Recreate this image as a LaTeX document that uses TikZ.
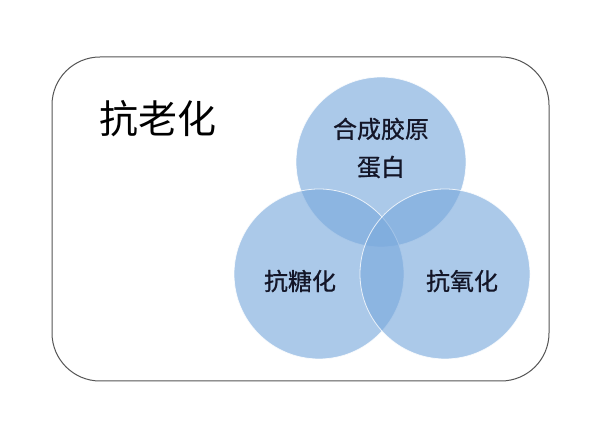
\documentclass[tikz,border=0pt]{standalone}
\usepackage{fontspec}
\newfontfamily\cjk{Noto Sans CJK SC}
\newfontfamily\cjkb[FakeBold=0.8]{Noto Sans CJK SC}
\definecolor{vblue}{RGB}{123,170,221}
\definecolor{frame}{RGB}{85,85,85}
\definecolor{ink}{RGB}{20,22,40}
\begin{document}
\begin{tikzpicture}[x=1pt,y=-1pt,
  venn/.style={circle,minimum size=170pt,inner sep=0pt,fill=vblue,fill opacity=0.63,draw=white,draw opacity=0.8,line width=0.8pt},
  lab/.style={font=\cjkb\fontsize{24}{38}\selectfont,text=ink,align=center,inner sep=0pt},
  title/.style={font=\cjk\fontsize{39}{44}\selectfont,text=black,inner sep=0pt}]
\useasboundingbox (0,0) rectangle (597,443);
\fill[white] (0,0) rectangle (597,443);
\draw[frame,line width=1pt,rounded corners=48pt] (52,57) rectangle (549,381);
\node[title] (t) at (158,119) {抗老化};
\node[venn] (ctop) at (381,162) {};
\node[venn] (cleft) at (319,274) {};
\node[venn] (cright) at (445,274) {};
\node[lab] (ltop) at (381,148) {合成胶原\\蛋白};
\node[lab] (lleft) at (300,281) {抗糖化};
\node[lab] (lright) at (462,281) {抗氧化};
\end{tikzpicture}
\end{document}
